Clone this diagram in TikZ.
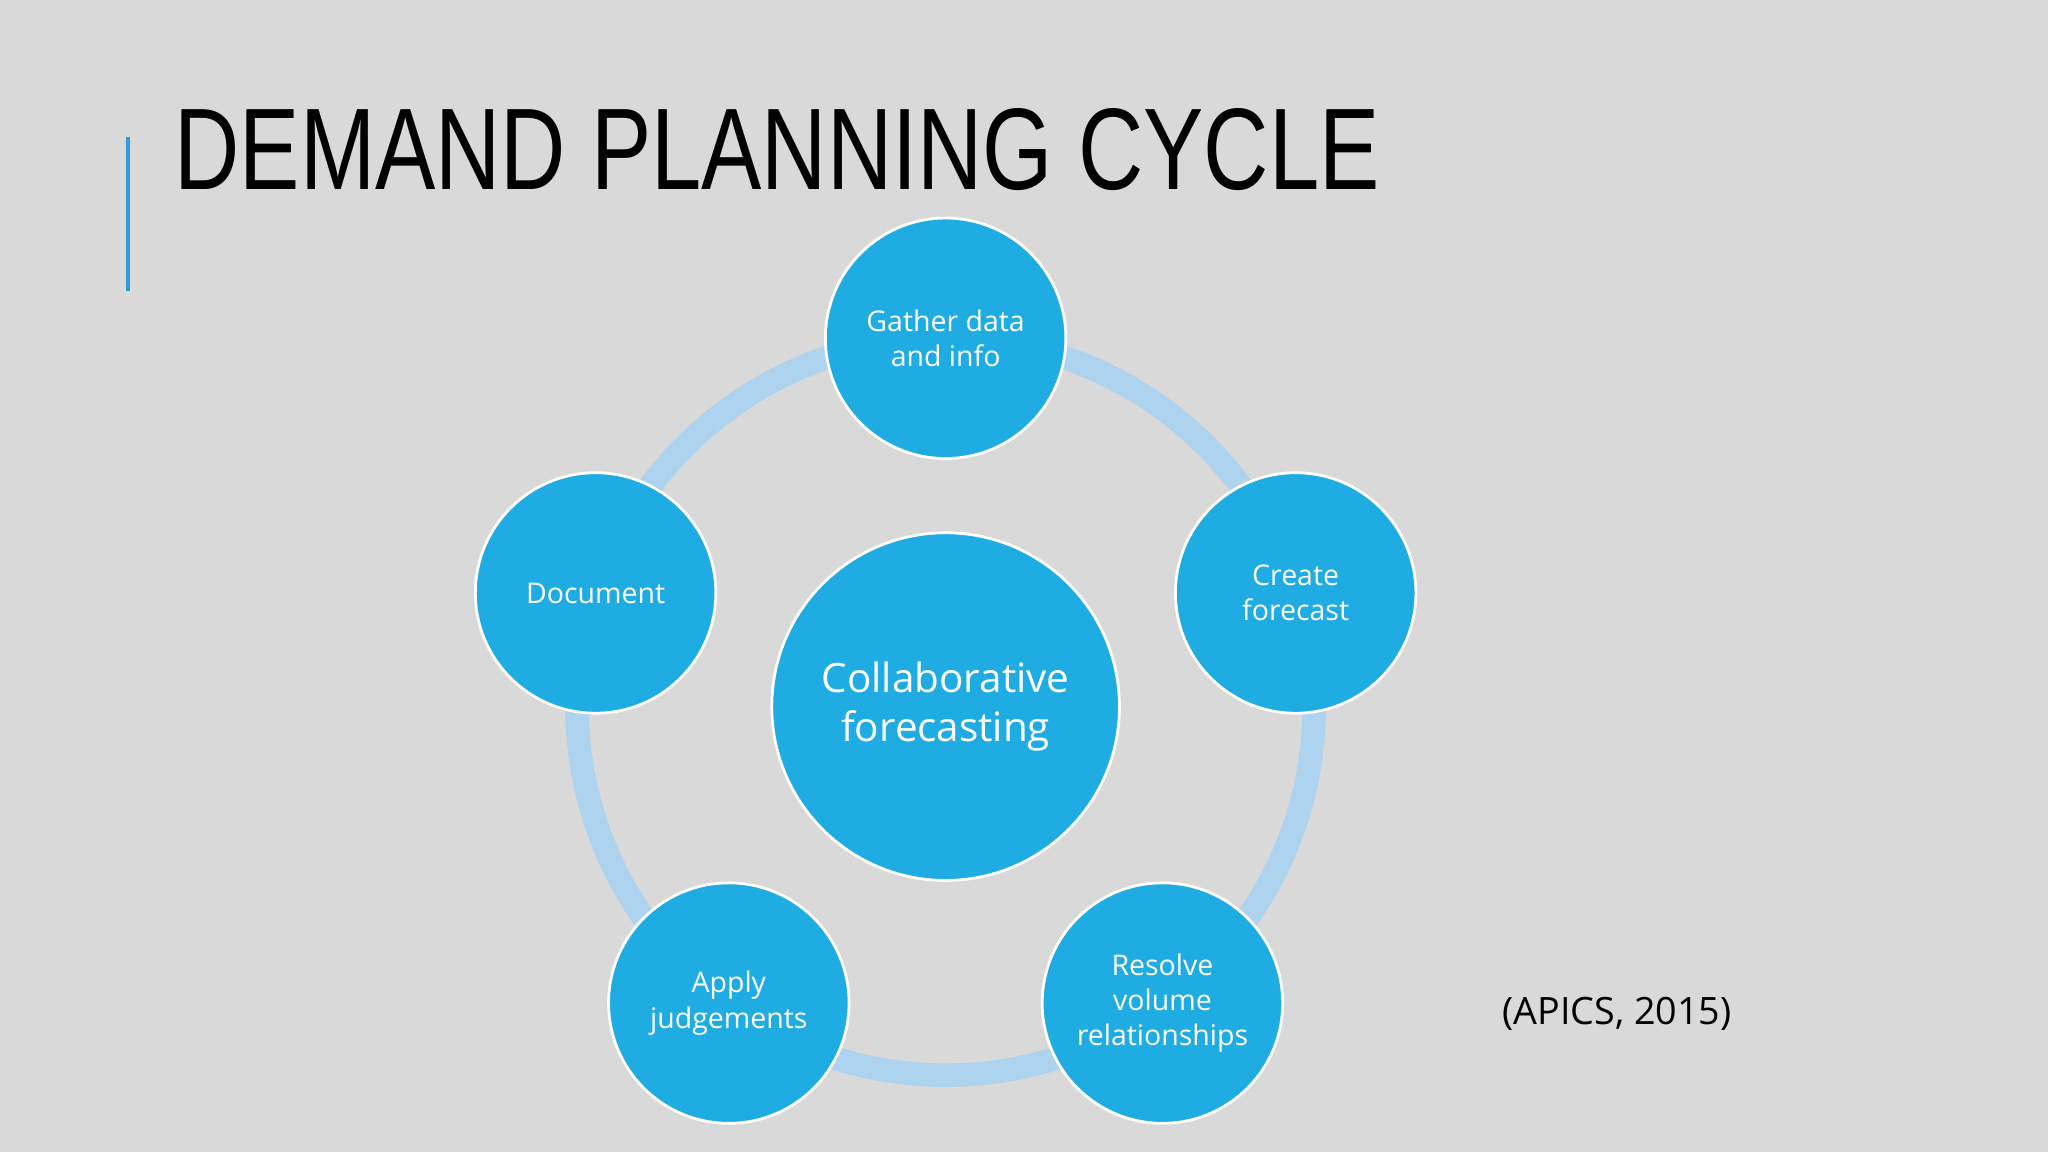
\documentclass[tikz,border=0pt]{standalone}
\usepackage{fontspec}
\setmainfont{Open Sans}
\newfontfamily\titlefont{Liberation Sans}
\definecolor{bg}{HTML}{D9D9D9}
\definecolor{ball}{HTML}{1EACE3}
\definecolor{ring}{HTML}{AED3EE}
\definecolor{bar}{HTML}{2E9BD8}
\begin{document}
\begin{tikzpicture}[x=0.01cm,y=-0.01cm,
  ballst/.style={circle,fill=ball,draw=white,line width=0.6pt,text=white,align=center,inner sep=0pt},
  small/.style={ballst,minimum size=1.84cm,font=\fontsize{6.2}{7.7}\selectfont},
  big/.style={ballst,minimum size=2.66cm,font=\fontsize{8.8}{10.8}\selectfont}]
\fill[bg] (0,0) rectangle (1568,882);
\useasboundingbox (0,0) rectangle (1568,882);
\draw[ring,line width=0.18cm] (724,541) circle[radius=2.82cm];
\draw[bar,line width=0.7pt] (98,105) -- (98,223);
\node[anchor=south west,inner sep=0pt] (title) at (133,147) {\resizebox{9.22cm}{0.62cm}{\titlefont DEMAND PLANNING CYCLE}};
\node[big] (c) at (724,541) {Collaborative\\forecasting};
\node[small] (g) at (724,259) {Gather data\\and info};
\node[small] (f) at (992,454) {Create\\forecast};
\node[small] (r) at (890,768) {Resolve\\volume\\relationships};
\node[small] (a) at (558,768) {Apply\\judgements};
\node[small] (d) at (456,454) {Document};
\node[font=\fontsize{8.2}{10}\selectfont] (ref) at (1238,776) {(APICS, 2015)};
\end{tikzpicture}
\end{document}
